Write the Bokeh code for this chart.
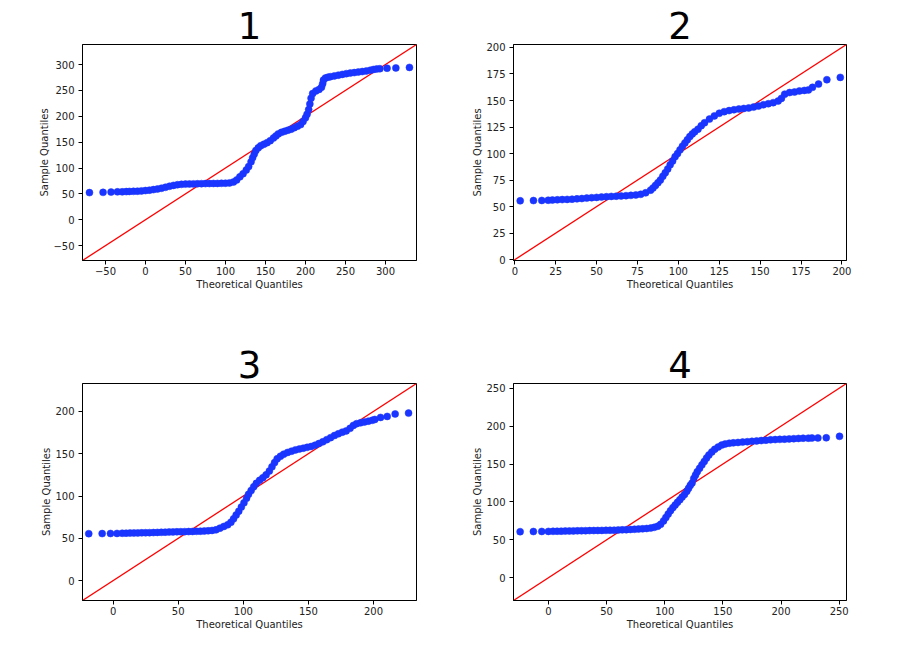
from bokeh.plotting import figure
from bokeh.layouts import column, row
from bokeh.models import Range1d, FixedTicker
from bokeh.embed import file_html
from bokeh.resources import INLINE

# ---------------- data ----------------
titles = ["1", "2", "3", "4"]

# panel 1
p1_x = [-70, -53, -43, -35, -29, -24,
        -20, -15, -10, -5, 0, 5, 10, 15, 20, 25, 30, 35, 40, 45, 50, 55, 60, 65, 70, 75, 80, 85, 90, 95, 100, 105,
        110, 114, 118, 122, 126, 129, 132, 134, 136, 138, 141, 144, 148, 152, 156, 160, 163, 166, 170, 174, 178,
        182, 186, 190, 194, 197, 200, 202, 204, 205.5, 207, 209, 213, 217, 220, 221.5, 222.5, 225, 228, 231, 236,
        241, 246, 251, 256, 261, 266, 271, 276, 281, 285, 289,
        293, 302, 313, 330]
p1_y = [52.5, 53, 53.5, 54, 54, 54.5,
        54.8, 55.0, 55.3, 55.8, 56.5, 57.3, 58.3, 59.5, 61, 62.8, 64.8, 66.5, 67.8, 68.5, 69, 69.2, 69.4, 69.6, 69.8,
        70, 70.1, 70.2, 70.3, 70.5, 70.7, 71.2,
        73, 77, 83, 89, 96, 103, 112, 120, 127, 134, 139, 143, 146, 149, 153, 158, 162, 166, 169, 171, 173,
        175, 178, 181, 184, 190, 197, 204, 213, 224, 235, 244, 249, 252, 256, 263, 270, 274, 275.5, 276.5, 278,
        279.5, 281, 282.5, 283.5, 284.5, 285.5, 286.5, 287.5, 289, 290.5, 291.5,
        292, 293, 293.5, 294.5]
p1_lim = [-78.7, 338.8]
p1_ticks = [-50, 0, 50, 100, 150, 200, 250, 300]

# panel 2
p2_x = [3.3, 11.4, 16.5, 20.4,
        23, 26, 29, 32, 35, 38, 41, 44, 47, 50, 53, 56, 59, 62, 65, 68, 71, 74, 77, 80,
        83, 84.5, 86, 87.5, 89, 90.5, 92, 93.5, 95, 96.5, 98, 99.5, 101, 102.5, 104, 105.5, 107, 108.5, 110,
        112, 114, 116, 119, 122, 125, 128, 131, 134, 137, 140, 143, 146, 149, 152, 155, 158, 161, 163, 165,
        168, 171, 174, 177, 179.5,
        182, 185.7, 190.8, 199]
p2_y = [55.5, 55.7, 55.8, 56,
        56.2, 56.4, 56.6, 56.8, 57, 57.3, 57.6, 58, 58.4, 58.7, 59, 59.3, 59.6, 59.8, 60, 60.3, 60.6, 61, 61.6, 63,
        65.5, 67.5, 70, 72.5, 75, 78.5, 82, 85.5, 89.5, 93, 97, 100, 103.5, 107, 110, 113, 116, 118.5, 120.5,
        123, 126.3, 129, 132.5, 135.5, 138, 139.5, 140.5, 141.3, 142, 142.5, 143, 143.8, 144.8, 146, 147, 148,
        149.5, 152, 156,
        157.5, 158, 159, 159.5, 160,
        162.4, 165.5, 169.6, 171.8]
p2_lim = [-0.8, 202.8]
p2_ticks = [0, 25, 50, 75, 100, 125, 150, 175, 200]

# panel 3
p3_x = [-18.7, -8.4, -2, 3, 7,
        10, 13, 16, 19, 22, 25, 28, 31, 34, 37, 40, 43, 46, 49, 52, 55, 58, 61, 64, 67, 70, 73, 76, 79, 82, 85,
        88, 90.5, 92.5, 94.5, 96.5, 98.5, 100.5, 102.5, 104, 106, 108, 110, 112.5, 115, 117.5, 120, 122, 124,
        126, 128.5, 131, 134, 137, 140, 143, 146, 149, 152, 155, 158, 161, 164, 167, 170, 173, 176, 179, 182,
        184.5, 187, 190, 193, 196, 199, 201,
        205.4, 210.5, 216.6, 226.9]
p3_y = [55.5, 55.6, 55.7, 55.8, 56,
        56.1, 56.2, 56.3, 56.4, 56.5, 56.6, 56.7, 56.8, 57, 57.1, 57.3, 57.5, 57.6, 57.7, 57.8, 57.9, 58, 58.1,
        58.3, 58.4, 58.6, 58.9, 59.3, 60, 62, 64,
        66, 69, 73, 77.5, 82, 87, 92, 97.5, 102, 106.5, 111, 115, 118.5, 121.5, 125, 129.5, 134.5, 139.5,
        144, 147, 149.5, 151.5, 153, 154.5, 155.5, 156.5, 157.5, 158.5, 160, 162, 164, 166.5, 169, 171.5, 173.5,
        175.5, 177, 180,
        183.5, 185.5, 186.5, 187.5, 188.5, 189.5, 190.5,
        192.9, 194.1, 197, 198]
p3_lim = [-23.5, 233]
p3_ticks = [0, 50, 100, 150, 200]

# panel 4
p4_x = [-24.3, -12.9, -5.7, 0, 4,
        7.5, 11, 14.5, 18, 21.5, 25, 28.5, 32, 35.5, 39, 42.5, 46, 49.5, 53, 56.5, 60, 63.5, 67, 70.5, 74, 77.5,
        81, 84.5, 88, 91, 94, 96.5, 99, 101, 103, 105, 107, 109, 111, 113, 115, 117, 119, 120.5, 122, 123.5, 125,
        126.5, 128, 130, 132, 134, 136, 138, 140.5, 143, 146, 149, 152, 155.5, 159, 163, 167, 171, 175, 179,
        183, 187, 191, 195, 199, 203, 207, 211, 215, 219,
        223.5, 226.6, 231.7, 238.9, 250.3]
p4_y = [60.8, 61, 61.1, 61.2, 61.3,
        61.4, 61.5, 61.6, 61.7, 61.8, 61.9, 62, 62.1, 62.2, 62.3, 62.4, 62.5, 62.6, 62.7, 62.8, 63, 63.2, 63.4,
        63.7, 64, 64.3, 64.6, 65, 65.6, 66.5, 68, 70.5, 75, 79.5, 84, 88.5, 92.5, 96, 99.5, 103, 106.5, 110, 114,
        118, 122, 125, 131, 135.5, 140, 144.5, 149, 153.5, 158, 162, 166, 169.5, 172.5, 175, 176.5, 177.5, 178,
        178.5, 179, 179.5, 180, 180.5, 181, 181.5, 182, 182.3, 182.6, 182.9, 183.2, 183.5, 183.8, 184.1,
        184.2, 184.4, 184.5, 184.7, 186.6]
p4_lim = [-30, 256.3]
p4_ticks = [0, 50, 100, 150, 200, 250]

FONT = "DejaVu Sans"
DOT = "#1a35ff"


def minus(ticks):
    return {t: ("\u2212" + str(-t)) if t < 0 else str(t) for t in ticks}


def make(title, xs, ys, lim, ticks, bl, fw, br, bt, fh, bb):
    p = figure(output_backend="svg", toolbar_location=None,
               frame_width=fw, frame_height=fh,
               min_border_left=bl, min_border_right=br,
               min_border_top=bt, min_border_bottom=bb,
               x_range=Range1d(lim[0], lim[1]), y_range=Range1d(lim[0], lim[1]),
               background_fill_color="white", border_fill_color="white")
    p.title.text = title
    p.title.align = "center"
    p.title.vertical_align = "bottom"
    p.title.text_font = FONT
    p.title.text_font_size = "37px"
    p.title.text_font_style = "normal"
    p.title.text_color = "black"
    p.title.text_line_height = 0.7
    p.title.standoff = 11
    p.title.offset = 0
    p.outline_line_color = "black"
    p.outline_line_width = 1
    p.xgrid.visible = False
    p.ygrid.visible = False
    for ax in (p.xaxis[0], p.yaxis[0]):
        ax.ticker = FixedTicker(ticks=ticks)
        ax.major_label_overrides = minus(ticks)
        ax.major_tick_out = 4
        ax.major_tick_in = 0
        ax.minor_tick_out = 0
        ax.minor_tick_in = 0
        ax.axis_line_color = "black"
        ax.major_tick_line_color = "black"
        ax.major_label_text_font = FONT
        ax.major_label_text_font_size = "10px"
        ax.major_label_text_color = "#222222"
        ax.axis_label_text_font = FONT
        ax.axis_label_text_font_size = "10px"
        ax.axis_label_text_font_style = "normal"
        ax.axis_label_text_color = "#222222"
    p.xaxis.major_label_standoff = 2
    p.yaxis.major_label_standoff = 4
    p.xaxis.axis_label = "Theoretical Quantiles"
    p.yaxis.axis_label = "Sample Quantiles"
    p.xaxis.axis_label_standoff = 1
    p.yaxis.axis_label_standoff = 0
    p.line(x=[lim[0], lim[1]], y=[lim[0], lim[1]], line_color="#ff0000", line_width=1.3)
    p.scatter(x=xs, y=ys, size=7, fill_color=DOT, line_color=DOT, line_width=0.5)
    return p


p1 = make(titles[0], p1_x, p1_y, p1_lim, p1_ticks, 82, 334, 34, 44, 216, 60)
p2 = make(titles[1], p2_x, p2_y, p2_lim, p2_ticks, 63, 333, 60, 44, 216, 60)
p3 = make(titles[2], p3_x, p3_y, p3_lim, p3_ticks, 82, 334, 34, 63, 217, 50)
p4 = make(titles[3], p4_x, p4_y, p4_lim, p4_ticks, 63, 333, 60, 63, 217, 50)

layout = column(row(p1, p2), row(p3, p4))
open("out.html", "w").write(file_html(layout, INLINE))
